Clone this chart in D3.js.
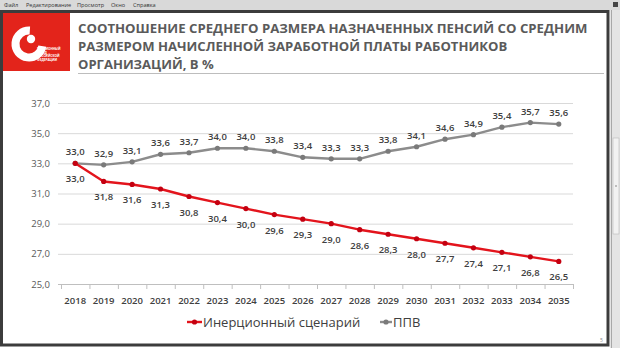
<!DOCTYPE html>
<html lang="ru">
<head>
<meta charset="utf-8">
<script src="https://cdn.jsdelivr.net/npm/d3@7"></script>
<style>
  html, body { margin: 0; padding: 0; background: #ffffff; }
  svg { display: block; }
</style>
</head>
<body>
<svg id="chart" width="620" height="348"></svg>
<script>
// Years on the horizontal axis
const years = ["2018","2019","2020","2021","2022","2023","2024","2025","2026",
               "2027","2028","2029","2030","2031","2032","2033","2034","2035"];
// Inertial scenario, % of average wage
const inertial = [33.0,31.8,31.6,31.3,30.8,30.4,30.0,29.6,29.3,29.0,28.6,28.3,28.0,27.7,27.4,27.1,26.8,26.5];
// Long-term pension programme scenario (ППВ)
const ppv = [33.0,32.9,33.1,33.6,33.7,34.0,34.0,33.8,33.4,33.3,33.3,33.8,34.1,34.6,34.9,35.4,35.7,35.6];
// Value axis ticks
const yTicks = [25,27,29,31,33,35,37];

const titleLines = [
  "СООТНОШЕНИЕ СРЕДНЕГО РАЗМЕРА НАЗНАЧЕННЫХ ПЕНСИЙ СО СРЕДНИМ",
  "РАЗМЕРОМ НАЧИСЛЕННОЙ ЗАРАБОТНОЙ ПЛАТЫ РАБОТНИКОВ",
  "ОРГАНИЗАЦИЙ, В %"
];
const menuItems = ["Файл","Редактирование","Просмотр","Окно","Справка"];
const seriesNames = ["Инерционный сценарий","ППВ"];

const svg = d3.select("#chart");
const W = 620, H = 348;
const FONT = "'Open Sans', 'DejaVu Sans', sans-serif";
const fmt = v => d3.format(".1f")(v).replace(".", ",");

// ---------- window chrome ----------
svg.append("rect").attr("x",0).attr("y",0).attr("width",W).attr("height",H).attr("fill","#ffffff");
svg.append("rect").attr("x",0).attr("y",0).attr("width",W).attr("height",10).attr("fill","#d9d9d9");
const menuX = [4,26,77,111,133];
svg.selectAll("text.menu").data(menuItems).join("text")
  .attr("class","menu")
  .attr("x",(d,i)=>menuX[i]).attr("y",7.2)
  .attr("font-family",FONT).attr("font-size",5.6).attr("fill","#333")
  .text(d=>d);
svg.append("rect").attr("x",613).attr("y",2).attr("width",5).attr("height",5).attr("fill","#444");

// scrollbar
svg.append("rect").attr("x",610).attr("y",10).attr("width",10).attr("height",H-10).attr("fill","#e4e4e4");
svg.append("line").attr("x1",611.5).attr("x2",611.5).attr("y1",10).attr("y2",H).attr("stroke","#a8a8a8");
svg.append("rect").attr("x",613).attr("y",138).attr("width",6).attr("height",96)
  .attr("fill","#f2f2f2").attr("stroke","#b8b8b8").attr("stroke-width",0.6);
svg.append("line").attr("x1",615).attr("x2",617).attr("y1",186).attr("y2",186).attr("stroke","#888");

// slide frame
svg.append("rect").attr("x",1.5).attr("y",11.5).attr("width",606.5).attr("height",333.5)
  .attr("fill","#ffffff").attr("stroke","#3c3c3c").attr("stroke-width",3);

// ---------- logo ----------
const logo = svg.append("g");
logo.append("rect").attr("x",3).attr("y",13).attr("width",67).attr("height",58).attr("fill","#e3241b");
const ring = d3.arc().innerRadius(9.5).outerRadius(17.5)
  .startAngle(Math.PI*0.55).endAngle(Math.PI*2.02);
logo.append("path").attr("d",ring()).attr("transform","translate(29,44)").attr("fill","#ffffff");
logo.append("circle").attr("cx",31).attr("cy",39).attr("r",4.2).attr("fill","#ffffff");
["ПЕНСИОННЫЙ","ФОНД","РОССИЙСКОЙ","ФЕДЕРАЦИИ"].forEach((t,i)=>{
  logo.append("text").attr("x",37).attr("y",50+i*3.6)
    .attr("font-family",FONT).attr("font-weight",700).attr("font-size",3.1)
    .attr("fill","#ffffff").text(t);
});

// ---------- title ----------
// each line is sized so that it fills its width at most 14.5px
const titleW = [510, 430, 136];
svg.selectAll("text.title").data(titleLines).join("text")
  .attr("class","title")
  .attr("x",78).attr("y",(d,i)=>33+i*18)
  .attr("font-family",FONT).attr("font-weight",700).attr("font-size",14.5)
  .attr("fill","#5a5a5a")
  .text(d=>d)
  .each(function(d,i){
    const len = this.getComputedTextLength();
    if (len > titleW[i]) d3.select(this).attr("font-size", 14.5*titleW[i]/len);
  });
svg.append("line").attr("x1",78).attr("x2",604).attr("y1",73.5).attr("y2",73.5)
  .attr("stroke","#bdbdbd").attr("stroke-width",1);

// ---------- chart ----------
const x = d3.scaleBand().domain(years).range([61,573]);
const y = d3.scaleLinear().domain([25,37]).range([284,103]);
const cx = d => x(d) + x.bandwidth()/2;

// gridlines
svg.append("g").selectAll("line").data(yTicks.filter(t=>t>25)).join("line")
  .attr("x1",58).attr("x2",573).attr("y1",d=>y(d)+0.5).attr("y2",d=>y(d)+0.5)
  .attr("stroke","#d9d9d9").attr("stroke-width",1);

// value axis labels
const yAxis = svg.append("g").attr("transform","translate(58,0)")
  .call(d3.axisLeft(y).tickValues(yTicks).tickFormat(fmt).tickSize(0).tickPadding(8));
yAxis.select(".domain").remove();
yAxis.selectAll("text").attr("font-family",FONT).attr("font-size",9.5).attr("fill","#595959");

// category axis
const xAxis = svg.append("g").attr("transform",`translate(0,${y(25)+0.5})`)
  .call(d3.axisBottom(x).tickSize(0).tickPadding(13));
xAxis.select(".domain").attr("stroke","#bfbfbf").attr("d","M58,0H573");
xAxis.selectAll("text").attr("font-family",FONT).attr("font-weight",600)
  .attr("font-size",9.5).attr("fill","#404040");
svg.append("g").selectAll("line").data(years.concat(["end"])).join("line")
  .attr("x1",(d,i)=> i<years.length ? x(d)+0.5 : 573.5)
  .attr("x2",(d,i)=> i<years.length ? x(d)+0.5 : 573.5)
  .attr("y1",y(25)).attr("y2",y(25)+5)
  .attr("stroke","#bfbfbf");

// series
const series = [
  {name: seriesNames[0], values: inertial, line: "#e3141c", mark: "#c40010", dy: 19},
  {name: seriesNames[1], values: ppv,      line: "#8c8c8c", mark: "#7a7a7a", dy: -8}
];
const lineGen = d3.line().x((d,i)=>cx(years[i])).y(d=>y(d));

series.slice().reverse().forEach(s=>{
  const g = svg.append("g");
  g.append("path").attr("d",lineGen(s.values)).attr("fill","none")
    .attr("stroke",s.line).attr("stroke-width",2.4).attr("stroke-linejoin","round");
  g.selectAll("circle").data(s.values).join("circle")
    .attr("cx",(d,i)=>cx(years[i])).attr("cy",d=>y(d)).attr("r",2.6).attr("fill",s.mark);
  g.selectAll("text").data(s.values).join("text")
    .attr("x",(d,i)=>cx(years[i])).attr("y",d=>y(d)+s.dy)
    .attr("text-anchor","middle")
    .attr("font-family",FONT).attr("font-weight",600).attr("font-size",9.5)
    .attr("fill","#404040").text(fmt);
});

// legend
const legend = svg.append("g").attr("transform","translate(0,322)");
const legX = [187, 380];
const legW = [15, 12];
series.forEach((s,i)=>{
  legend.append("line").attr("x1",legX[i]).attr("x2",legX[i]+legW[i]).attr("y1",0).attr("y2",0)
    .attr("stroke",s.line).attr("stroke-width",2.4);
  legend.append("circle").attr("cx",legX[i]+legW[i]/2).attr("cy",0).attr("r",2.6).attr("fill",s.mark);
  legend.append("text").attr("x",legX[i]+legW[i]+1).attr("y",4.6)
    .attr("font-family",FONT).attr("font-size",13).attr("fill","#404040")
    .text(s.name);
});

// slide number
svg.append("text").attr("x",600).attr("y",342).attr("font-family",FONT)
  .attr("font-size",5).attr("fill","#888").text("5");
</script>
</body>
</html>
